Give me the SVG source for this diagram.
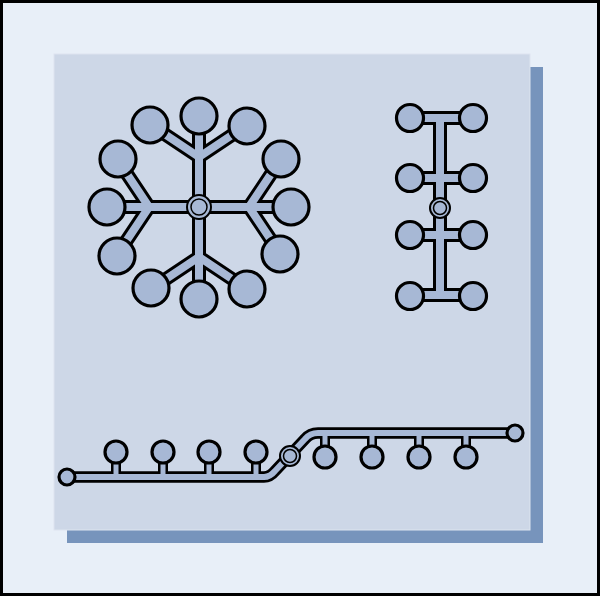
<svg xmlns="http://www.w3.org/2000/svg" width="600" height="596" viewBox="0 0 600 596">
<style>
.ch-o{fill:none;stroke:#000;stroke-width:14;stroke-linecap:butt;stroke-linejoin:round}
.ch-i{fill:none;stroke:#a7b8d5;stroke-width:8;stroke-linecap:butt;stroke-linejoin:round}
.ln-o{fill:none;stroke:#000;stroke-width:11.5;stroke-linejoin:round}
.ln-i{fill:none;stroke:#a7b8d5;stroke-width:6;stroke-linejoin:round}
.st-o{fill:none;stroke:#000;stroke-width:10}
.st-i{fill:none;stroke:#a7b8d5;stroke-width:5}
.n{fill:#a7b8d5;stroke:#000;stroke-width:3.2}
.hub{fill:#a7b8d5;stroke:#000;stroke-width:2}
.hubin{fill:#a7b8d5;stroke:#000;stroke-width:1.5}
</style>
<defs>
<path id="starch" d="M199,116 V299 M107,207 H291 M151,125 L199,157 L247,125 M151,289 L199,257 L247,289 M117,159 L149,207 L117,255 M281,159 L249,207 L281,255"/>
<path id="ladch" d="M410,118 H474 M410,295 H474 M440,118 V295 M410,178 H474 M410,235 H474"/>
<path id="linech" d="M67,477 H264 Q270,477 275,471 L305,439 Q310,433 318,433 H515"/>
<path id="stubs" d="M116,453 V476 M163,453 V476 M209,453 V476 M256,453 V476 M325,457 V434 M372,457 V434 M419,457 V434 M466,457 V434"/>
</defs>
<rect x="1.5" y="1.5" width="597" height="593" fill="#e8eff8" stroke="#000" stroke-width="3"/>
<rect x="67" y="67" width="476" height="476" fill="#7794bc"/>
<rect x="54" y="54" width="476" height="476" fill="#cdd7e7" stroke="#dde4ef" stroke-width="1"/>
<g id="connectors">
<use href="#starch" class="ch-o"/><use href="#starch" class="ch-i"/>
<use href="#ladch" class="ch-o"/><use href="#ladch" class="ch-i"/>
<use href="#stubs" class="st-o"/>
<use href="#linech" class="ln-o"/><use href="#linech" class="ln-i"/>
<use href="#stubs" class="st-i"/>
</g>
<g id="star">
<g id="star-hub"><circle class="hub" cx="199" cy="207" r="12"/><circle class="hubin" cx="199" cy="207" r="8"/></g>
<g id="s1"><circle class="n" cx="199" cy="116" r="18"/></g>
<g id="s2"><circle class="n" cx="247" cy="126" r="18"/></g>
<g id="s3"><circle class="n" cx="281" cy="159" r="18"/></g>
<g id="s4"><circle class="n" cx="291" cy="207" r="18"/></g>
<g id="s5"><circle class="n" cx="280" cy="254" r="18"/></g>
<g id="s6"><circle class="n" cx="247" cy="289" r="18"/></g>
<g id="s7"><circle class="n" cx="199" cy="299" r="18"/></g>
<g id="s8"><circle class="n" cx="151" cy="288" r="18"/></g>
<g id="s9"><circle class="n" cx="117" cy="256" r="18"/></g>
<g id="s10"><circle class="n" cx="107" cy="207" r="18"/></g>
<g id="s11"><circle class="n" cx="118" cy="159" r="18"/></g>
<g id="s12"><circle class="n" cx="150" cy="125" r="18"/></g>
</g>
<g id="ladder">
<g id="lad-hub"><circle class="hub" cx="440" cy="208" r="10"/><circle class="hubin" cx="440" cy="208" r="6.5"/></g>
<g id="l1"><circle class="n" cx="410" cy="118" r="13.5"/></g>
<g id="l2"><circle class="n" cx="473" cy="118" r="13.5"/></g>
<g id="l3"><circle class="n" cx="410" cy="178" r="13.5"/></g>
<g id="l4"><circle class="n" cx="473" cy="178" r="13.5"/></g>
<g id="l5"><circle class="n" cx="410" cy="235" r="13.5"/></g>
<g id="l6"><circle class="n" cx="473" cy="235" r="13.5"/></g>
<g id="l7"><circle class="n" cx="410" cy="296" r="13.5"/></g>
<g id="l8"><circle class="n" cx="473" cy="296" r="13.5"/></g>
</g>
<g id="line">
<g id="end-left"><circle class="n" cx="67" cy="477" r="8"/></g>
<g id="end-right"><circle class="n" cx="515" cy="433" r="8"/></g>
<g id="line-hub"><circle class="hub" cx="290" cy="456" r="10"/><circle class="hubin" cx="290" cy="456" r="6.5"/></g>
<g id="b1"><circle class="n" cx="116" cy="452" r="11"/></g>
<g id="b2"><circle class="n" cx="163" cy="452" r="11"/></g>
<g id="b3"><circle class="n" cx="209" cy="452" r="11"/></g>
<g id="b4"><circle class="n" cx="256" cy="452" r="11"/></g>
<g id="t1"><circle class="n" cx="325" cy="457" r="11"/></g>
<g id="t2"><circle class="n" cx="372" cy="457" r="11"/></g>
<g id="t3"><circle class="n" cx="419" cy="457" r="11"/></g>
<g id="t4"><circle class="n" cx="466" cy="457" r="11"/></g>
</g>
</svg>
